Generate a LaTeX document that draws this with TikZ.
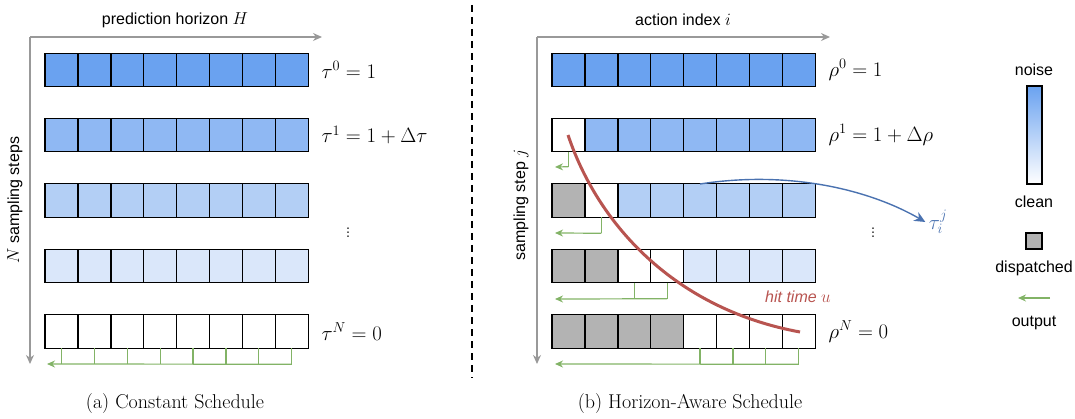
\documentclass[tikz,border=0pt]{standalone}
\usepackage{fontspec}
\setsansfont{Liberation Sans}
\usetikzlibrary{arrows.meta}
\definecolor{c0}{HTML}{6AA2F0}
\definecolor{c1}{HTML}{8FB8F3}
\definecolor{c2}{HTML}{B3CFF5}
\definecolor{c3}{HTML}{DAE7FA}
\definecolor{cg}{HTML}{B3B3B3}
\definecolor{gr}{HTML}{82B366}
\definecolor{rd}{HTML}{B85450}
\definecolor{bl}{HTML}{4A72B0}
\definecolor{ax}{HTML}{999999}
\tikzset{
 cell/.style={draw=black,line width=1.4pt,minimum width=32.9pt,minimum height=33.5pt,inner sep=0pt,outer sep=0pt},
 axis/.style={draw=ax,line width=1.4pt,-{Stealth[length=9pt,width=8pt]}},
 outp/.style={draw=gr,line width=1.2pt},
 outa/.style={draw=gr,line width=1.2pt,-{Stealth[length=8pt,width=7pt]}},
 lab/.style={font=\sffamily\fontsize{16}{19}\selectfont},
 mth/.style={font=\fontsize{20}{24}\selectfont,anchor=west},
 captext/.style={font=\fontsize{20}{24}\selectfont}
}
\begin{document}
\begin{tikzpicture}[x=1pt,y=-1pt]
\useasboundingbox (0,0) rectangle (1075,419);
% left panel
\foreach \r/\y/\c in {0/70/c0,1/135/c1,2/200.5/c2,3/266/c3,4/331.5/white}{
 \foreach \k in {0,...,7}{
  \node[cell,fill=\c] (a\r\k) at ({61.45+32.9*\k},\y) {};
 }}
\coordinate (aO) at (30,37);
\coordinate (aX) at (322,37);
\coordinate (aY) at (30,364);
\draw[axis] (aO) -- (aX);
\draw[axis] (aO) -- (aY);
\node[lab] (aht) at (175,20) {prediction horizon $H$};
\node[lab,rotate=90] (avt) at (15,200) {$N$ sampling steps};
\node[mth] (al0) at (318,70) {$\tau^0=1$};
\node[mth] (al1) at (318,135) {$\tau^1=1+\Delta\tau$};
\node[mth] (al4) at (318,331.5) {$\tau^N=0$};
\node[font=\fontsize{20}{24}\selectfont] (adots) at (348,230) {$\vdots$};
\coordinate (aend) at (47,364);
\foreach \k in {0,...,7}{\draw[outp] (a4\k.south) -- ++(0,16);}
\draw[outa] (a47.south)++(0,16) -- (aend);
% separator
\coordinate (s1) at (472,5); \coordinate (s2) at (472,378);
\draw[line width=2pt,dash pattern=on 7pt off 5pt] (s1) -- (s2);
% right panel
\foreach \r/\y/\cl in {0/70/{c0,c0,c0,c0,c0,c0,c0,c0},1/135/{white,c1,c1,c1,c1,c1,c1,c1},2/200.5/{cg,white,c2,c2,c2,c2,c2,c2},3/266/{cg,cg,white,white,c3,c3,c3,c3},4/331.5/{cg,cg,cg,cg,white,white,white,white}}{
 \foreach \cc [count=\k from 0] in \cl {
  \node[cell,fill=\cc] (b\r\k) at ({568.45+32.9*\k},\y) {};
 }}
\coordinate (bO) at (537,37);
\coordinate (bX) at (830,37);
\coordinate (bY) at (537,364);
\draw[axis] (bO) -- (bX);
\draw[axis] (bO) -- (bY);
\node[lab] (bht) at (683,20) {action index $i$};
\node[lab,rotate=90] (bvt) at (521,205) {sampling step $j$};
\node[mth] (bl0) at (825,70) {$\rho^0=1$};
\node[mth] (bl1) at (825,135) {$\rho^1=1+\Delta\rho$};
\node[mth] (bl4) at (825,331.5) {$\rho^N=0$};
\node[font=\fontsize{20}{24}\selectfont] (bdots) at (873,230) {$\vdots$};
% outputs
\coordinate (e1) at (555,167); \coordinate (e2) at (555,233);
\coordinate (e3) at (555,299); \coordinate (e4) at (555,364);
\draw[outp] (b10.south) -- ++(0,15);
\draw[outa] (b10.south)++(0,15) -- (e1);
\draw[outp] (b21.south) -- ++(0,16);
\draw[outa] (b21.south)++(0,16) -- (e2);
\foreach \k in {2,3}{\draw[outp] (b3\k.south) -- ++(0,16);}
\draw[outa] (b33.south)++(0,16) -- (e3);
\foreach \k in {4,...,7}{\draw[outp] (b4\k.south) -- ++(0,16);}
\draw[outa] (b47.south)++(0,16) -- (e4);
% hit time curve
\coordinate (h1) at (568,135); \coordinate (h2) at (800,332);
\draw[rd,line width=3pt] (h1) .. controls (600,230) and (680,310) .. (h2);
\node[font=\sffamily\itshape\fontsize{16}{19}\selectfont,text=rd] (ht) at (798,297) {hit time $u$};
% tau_i^j
\node[text=bl,font=\fontsize{22}{26}\selectfont] (tij) at (938,222) {$\tau_i^j$};
\coordinate (bs) at (700,184);
\draw[bl,line width=1.4pt,-{Stealth[length=11pt,width=10pt]}] (bs) .. controls (790,170) and (870,190) .. (tij.west);
% legend
\node[lab] (ln) at (1034,70) {noise};
\node[draw=black,line width=1.4pt,minimum width=15pt,minimum height=98pt,inner sep=0pt,top color=c0,bottom color=white] (lg) at (1034.5,135) {};
\node[lab] (lc) at (1034,202) {clean};
\node[draw=black,line width=1.4pt,fill=cg,minimum size=16pt,inner sep=0pt] (ld) at (1034,241) {};
\node[lab] (ldt) at (1034,268) {dispatched};
\coordinate (lo1) at (1050,298); \coordinate (lo2) at (1018,298);
\draw[outa] (lo1) -- (lo2);
\node[lab] (lot) at (1034,323) {output};
% captions
\node[captext] (capa) at (175,404) {(a) Constant Schedule};
\node[captext] (capb) at (690,404) {(b) Horizon-Aware Schedule};
\end{tikzpicture}
\end{document}
